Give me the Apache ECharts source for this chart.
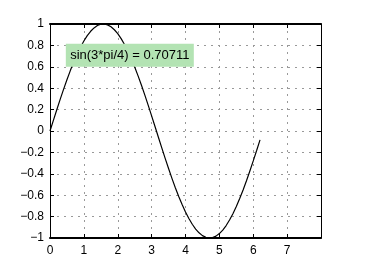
<!DOCTYPE html>
<html><head><meta charset="utf-8">
<script src="https://cdn.jsdelivr.net/npm/echarts@6/dist/echarts.min.js"></script>
<style>html,body{margin:0;padding:0;background:#fff}#c{width:366px;height:263px}</style>
</head><body><div id="c"></div>
<script>
var xValues = [0,0.1,0.2,0.3,0.4,0.5,0.6,0.7,0.8,0.9,1.0,1.1,1.2,1.3,1.4,1.5,1.6,1.7,1.8,1.9,2.0,2.1,2.2,2.3,2.4,2.5,2.6,2.7,2.8,2.9,3.0,3.1,3.2,3.3,3.4,3.5,3.6,3.7,3.8,3.9,4.0,4.1,4.2,4.3,4.4,4.5,4.6,4.7,4.8,4.9,5.0,5.1,5.2,5.3,5.4,5.5,5.6,5.7,5.8,5.9,6.0,6.1,6.2];
var yValues = [0,0.0998,0.1987,0.2955,0.3894,0.4794,0.5646,0.6442,0.7174,0.7833,0.8415,0.8912,0.9320,0.9636,0.9854,0.9975,0.9996,0.9917,0.9738,0.9463,0.9093,0.8632,0.8085,0.7457,0.6755,0.5985,0.5155,0.4274,0.3350,0.2392,0.1411,0.0416,-0.0584,-0.1577,-0.2555,-0.3508,-0.4425,-0.5298,-0.6119,-0.6878,-0.7568,-0.8183,-0.8716,-0.9162,-0.9516,-0.9775,-0.9937,-0.9999,-0.9962,-0.9825,-0.9589,-0.9258,-0.8835,-0.8323,-0.7728,-0.7055,-0.6313,-0.5507,-0.4646,-0.3739,-0.2794,-0.1822,-0.0831];
var annotation = {x: 2.3562, y: 0.70711, text: 'sin(3*pi/4) = 0.70711'};
var xTickLabels = ['0','1','2','3','4','5','6','7',''];

var chart = echarts.init(document.getElementById('c'), null, {renderer:'canvas'});
var font = 'Liberation Sans, Arial, Helvetica, sans-serif';
var split = {show:true, lineStyle:{color:'#999', type:[2,5], width:1}};
var tick = {show:true, inside:true, length:4, lineStyle:{color:'#000', width:1}};
chart.setOption({
  animation:false,
  grid:{left:50, top:24, width:271, height:214, show:false},
  xAxis:[{
    type:'value', min:0, max:8, interval:1, position:'bottom',
    axisLine:{show:true, onZero:false, lineStyle:{color:'#000', width:2}}, axisTick:tick,
    axisLabel:{color:'#000', fontFamily:font, fontSize:12, margin:7,
      formatter:function(v){return xTickLabels[Math.round(v)];}},
    splitLine:split
  },{
    type:'value', min:0, max:8, interval:1, position:'top',
    axisLine:{show:true, onZero:false, lineStyle:{color:'#000', width:2}}, axisTick:tick,
    axisLabel:{show:false}, splitLine:{show:false}
  }],
  yAxis:[{
    type:'value', min:-1, max:1, interval:0.2, position:'left',
    axisLine:{show:true, onZero:false, lineStyle:{color:'#000', width:1}}, axisTick:tick,
    axisLabel:{color:'#000', fontFamily:font, fontSize:12, margin:6,
      formatter:function(v){var s=(Math.round(v*10)/10).toString(); return s.replace('-','\u2212');}},
    splitLine:split
  },{
    type:'value', min:-1, max:1, interval:0.2, position:'right',
    axisLine:{show:true, onZero:false, lineStyle:{color:'#000', width:1}}, axisTick:tick,
    axisLabel:{show:false}, splitLine:{show:false}
  }],
  series:[{
    type:'line', xAxisIndex:0, yAxisIndex:0, z:2,
    data:xValues.map(function(x,i){return [x,yValues[i]];}),
    showSymbol:false, symbol:'none', smooth:false,
    lineStyle:{color:'#000', width:1.2},
    markPoint:{
      silent:true, z:20,
      symbol:'rect', symbolSize:[128,23],
      itemStyle:{color:'#b3e3b3'},
      label:{show:true, position:'inside', formatter:annotation.text,
        color:'#000', fontFamily:font, fontSize:13},
      data:[{coord:[annotation.x, annotation.y], value:annotation.y}]
    }
  }]
});
</script></body></html>
